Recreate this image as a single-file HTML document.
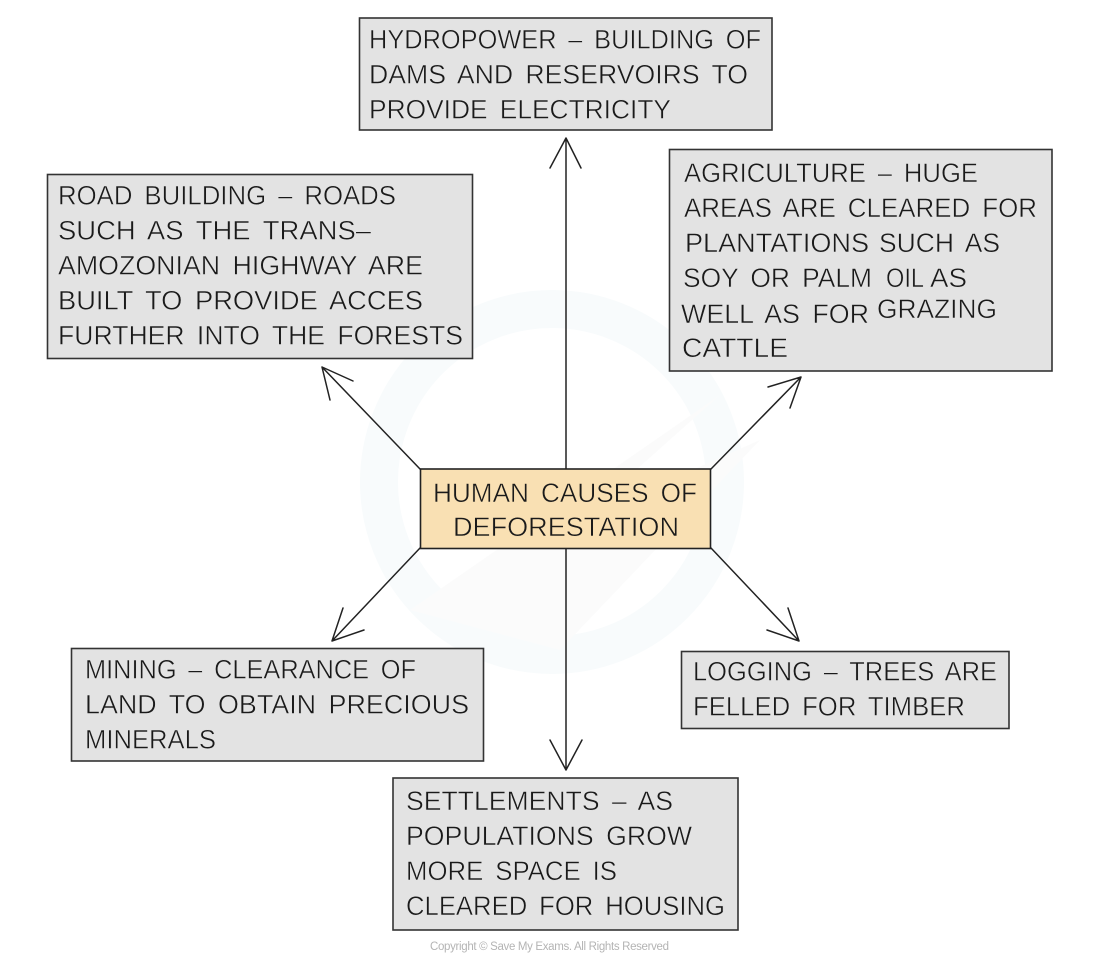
<!DOCTYPE html>
<html lang="en">
<head>
<meta charset="utf-8">
<title>Human causes of deforestation</title>
<style>
html,body{margin:0;padding:0;background:#fff;width:1100px;height:961px;overflow:hidden}
svg{display:block}
text{font-family:"Liberation Sans",sans-serif;font-size:27px;fill:#1a1a1a;word-spacing:5px}
.b{fill:#e3e3e3;stroke:#333;stroke-width:1.6}
.a{fill:none;stroke:#222;stroke-width:1.5;stroke-linecap:round;stroke-linejoin:round}
.t{stroke:#e3e3e3;stroke-width:.5}
.c{stroke:#f9e0b3;stroke-width:.5}
</style>
</head>
<body>
<svg width="1100" height="961" viewBox="0 0 1100 961" xmlns="http://www.w3.org/2000/svg">
<!-- watermark -->
<circle cx="552" cy="482" r="173" fill="none" stroke="#f8fbfc" stroke-width="38"/>
<path d="M410 610 L720 395 L580 520 L760 440 L560 650 Z" fill="#fbfbfb"/>

<!-- connectors -->
<path class="a" d="M566 469V138M550 168L566 138L581 168"/>
<path class="a" d="M566 548V770M550 740L566 770L582 740"/>
<path class="a" d="M420 469L322 367M353 381L322 367L330 400"/>
<path class="a" d="M711 469L801 377M768 387L801 377L790 408"/>
<path class="a" d="M420 548L332 641M364 630L332 641L343 608"/>
<path class="a" d="M711 548L799 641M767 630L799 641L788 608"/>

<!-- boxes -->
<rect class="b" x="359.500" y="18" width="412.500" height="112"/>
<rect class="b" x="669.500" y="149.500" width="382.500" height="221.500"/>
<rect class="b" x="47.500" y="174.500" width="425" height="184"/>
<rect class="b" x="71.500" y="648.500" width="412" height="112.500"/>
<rect class="b" x="681.500" y="651.500" width="327.500" height="77"/>
<rect class="b" x="393" y="778" width="345" height="152"/>
<rect x="420.500" y="469" width="290" height="79.500" fill="#f9e0b3" stroke="#222" stroke-width="1.6"/>

<!-- labels -->
<g class="t">
<text lengthAdjust="spacingAndGlyphs" x="369" y="48.500" textLength="392">HYDROPOWER – BUILDING OF</text>
<text lengthAdjust="spacingAndGlyphs" x="369" y="83.500" textLength="379">DAMS AND RESERVOIRS TO</text>
<text lengthAdjust="spacingAndGlyphs" x="369" y="118.500" textLength="302">PROVIDE ELECTRICITY</text>

<text lengthAdjust="spacingAndGlyphs" x="684" y="182" textLength="294">AGRICULTURE – HUGE</text>
<text lengthAdjust="spacingAndGlyphs" x="684" y="217" textLength="353">AREAS ARE CLEARED FOR</text>
<text lengthAdjust="spacingAndGlyphs" x="685" y="252" textLength="184">PLANTATIONS</text>
<text lengthAdjust="spacingAndGlyphs" x="879" y="252" textLength="121">SUCH AS</text>
<text lengthAdjust="spacingAndGlyphs" x="683" y="287" textLength="189">SOY OR PALM</text>
<text lengthAdjust="spacingAndGlyphs" x="886" y="287" textLength="38">OIL</text>
<text lengthAdjust="spacingAndGlyphs" x="930" y="287" textLength="37">AS</text>
<text lengthAdjust="spacingAndGlyphs" x="681" y="323" textLength="188">WELL AS FOR</text>
<text lengthAdjust="spacingAndGlyphs" x="877" y="318" textLength="120">GRAZING</text>
<text lengthAdjust="spacingAndGlyphs" x="682" y="357" textLength="106">CATTLE</text>

<text lengthAdjust="spacingAndGlyphs" x="58" y="204.500" textLength="338">ROAD BUILDING – ROADS</text>
<text lengthAdjust="spacingAndGlyphs" x="58" y="239.500" textLength="313">SUCH AS THE TRANS–</text>
<text lengthAdjust="spacingAndGlyphs" x="58" y="274.500" textLength="365">AMOZONIAN HIGHWAY ARE</text>
<text lengthAdjust="spacingAndGlyphs" x="58" y="309.500" textLength="365">BUILT TO PROVIDE ACCES</text>
<text lengthAdjust="spacingAndGlyphs" x="58" y="344.500" textLength="405">FURTHER INTO THE FORESTS</text>

<text lengthAdjust="spacingAndGlyphs" x="85" y="678.500" textLength="331">MINING – CLEARANCE OF</text>
<text lengthAdjust="spacingAndGlyphs" x="85" y="713.500" textLength="384">LAND TO OBTAIN PRECIOUS</text>
<text lengthAdjust="spacingAndGlyphs" x="85" y="748.500" textLength="131">MINERALS</text>

<text lengthAdjust="spacingAndGlyphs" x="693" y="680.500" textLength="304">LOGGING – TREES ARE</text>
<text lengthAdjust="spacingAndGlyphs" x="693" y="715.500" textLength="272">FELLED FOR TIMBER</text>

<text lengthAdjust="spacingAndGlyphs" x="406" y="810" textLength="267">SETTLEMENTS – AS</text>
<text lengthAdjust="spacingAndGlyphs" x="406" y="845" textLength="286">POPULATIONS GROW</text>
<text lengthAdjust="spacingAndGlyphs" x="406" y="880" textLength="211">MORE SPACE IS</text>
<text lengthAdjust="spacingAndGlyphs" x="406" y="915" textLength="319">CLEARED FOR HOUSING</text>
</g>
<g class="c">
<text lengthAdjust="spacingAndGlyphs" x="433" y="502" textLength="264">HUMAN CAUSES OF</text>
<text lengthAdjust="spacingAndGlyphs" x="453" y="536" textLength="226">DEFORESTATION</text>
</g>

<text x="430" y="950" textLength="239" style="font-size:11.500px;fill:#b4b4b4;word-spacing:0">Copyright © Save My Exams. All Rights Reserved</text>
</svg>
</body>
</html>
